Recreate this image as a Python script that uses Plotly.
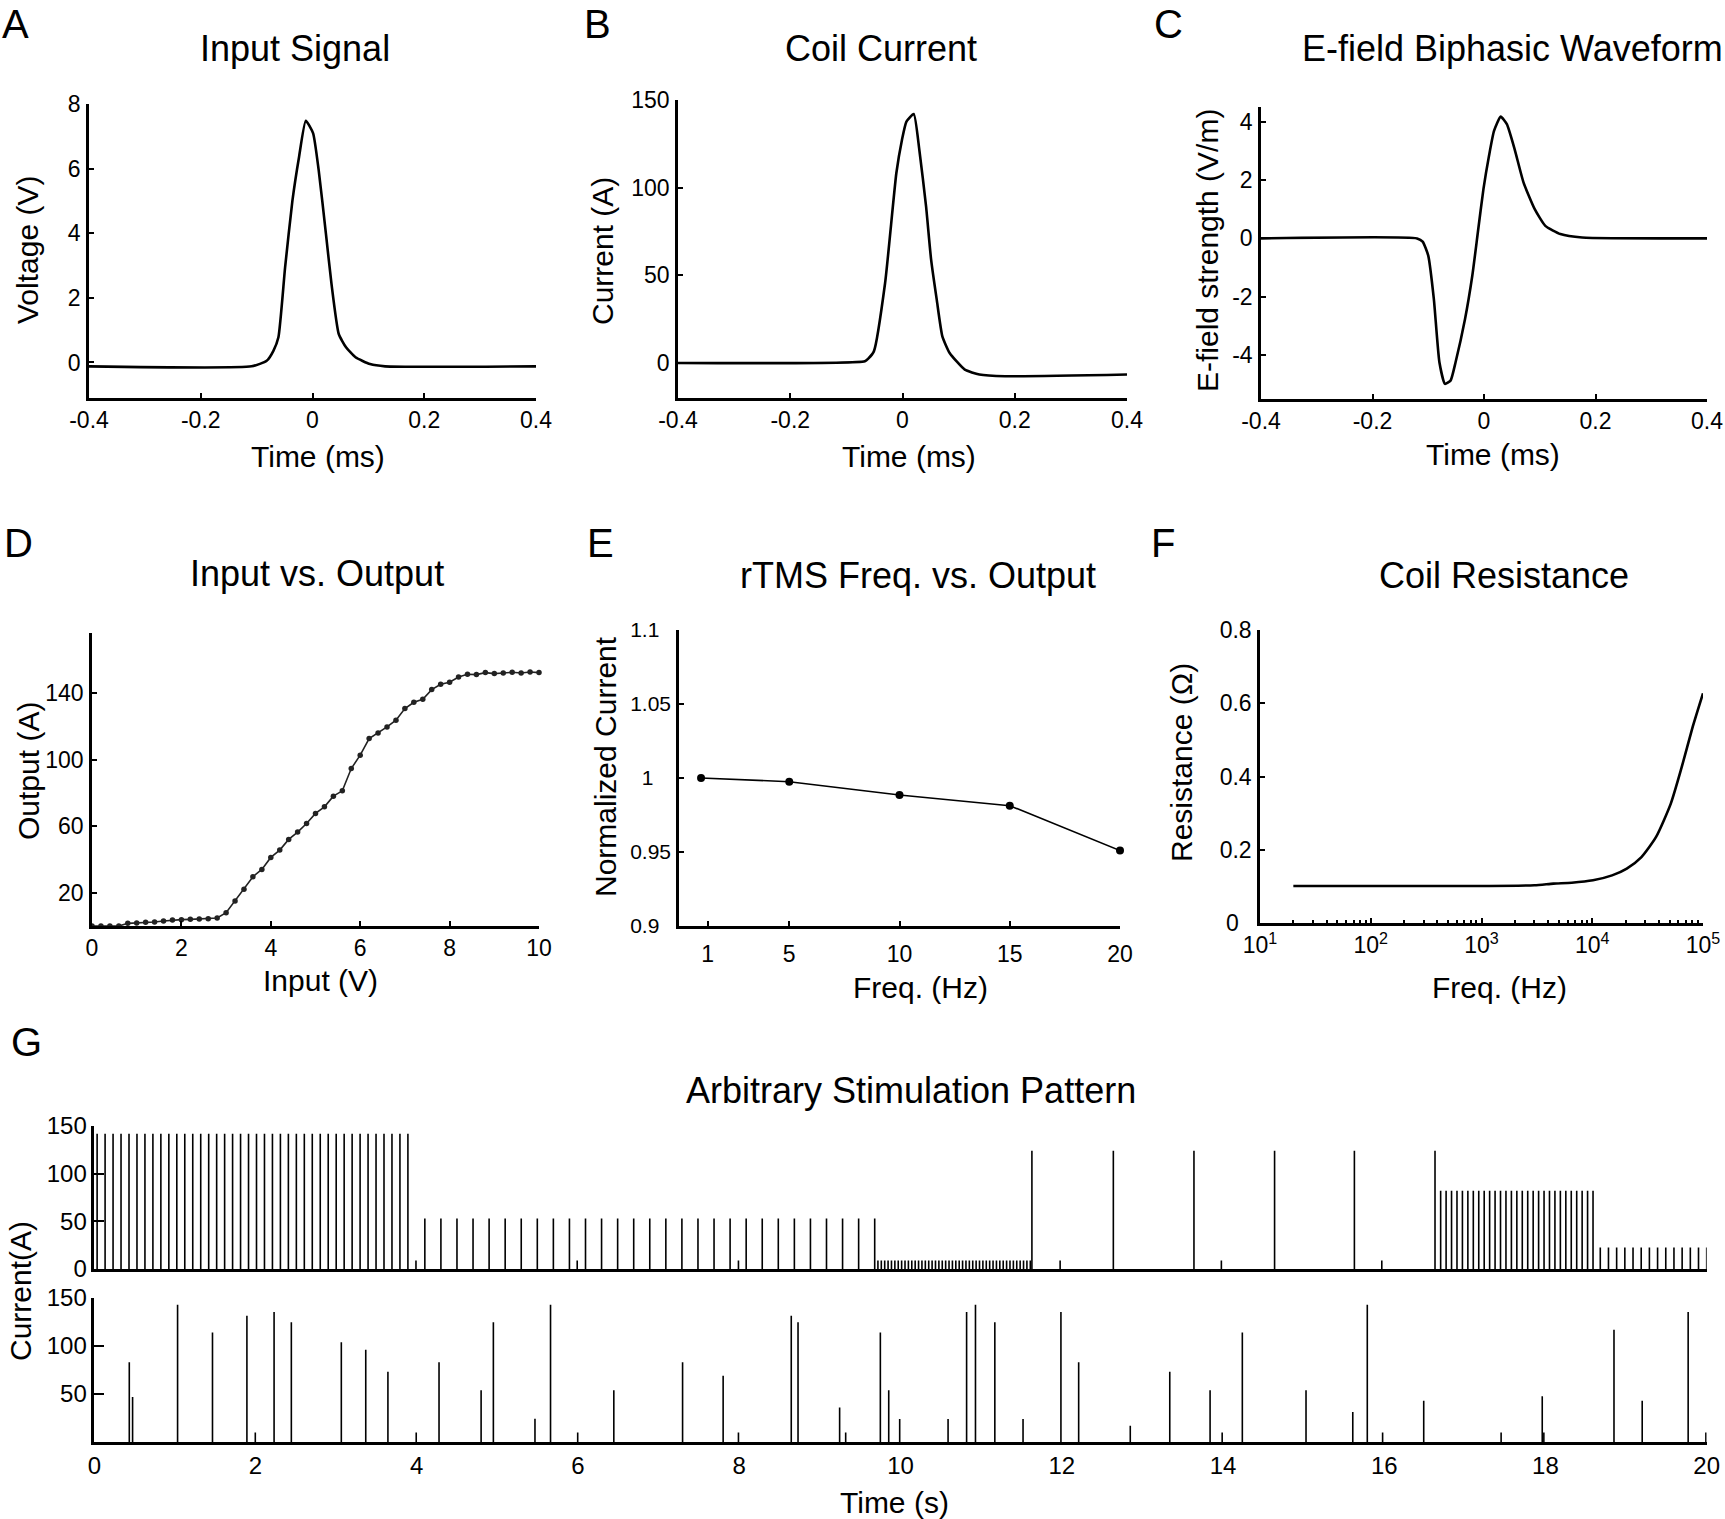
import plotly.graph_objects as go

W, H = 1725, 1519
FONT = "Liberation Sans, Arial, Helvetica, sans-serif"
NB = "\u00a0"

# ---------------- Data ----------------
# A: Input signal
a_time = [-0.4, -0.109, -0.082, -0.070, -0.061, -0.049, -0.036, -0.024, -0.012, 0.001,
          0.011, 0.024, 0.034, 0.047, 0.060, 0.077, 0.103, 0.130, 0.4]
a_volt = [-0.12, -0.12, 0.05, 0.36, 0.78, 2.95, 5.0, 6.37, 7.48, 7.1,
          5.96, 3.99, 2.43, 0.88, 0.47, 0.16, -0.05, -0.12, -0.12]

# B: Coil current
b_time = [-0.4, -0.067, -0.061, -0.051, -0.031, -0.011, -0.001, 0.007, 0.020, 0.030,
          0.042, 0.051, 0.061, 0.071, 0.084, 0.111, 0.137, 0.183, 0.4]
b_curr = [0.0, 1.0, 2.5, 6.6, 45.6, 108.2, 127.2, 137.7, 142.0, 121.5,
          89.3, 58.9, 36.1, 15.2, 5.7, -3.8, -6.6, -7.6, -6.6]

# C: E-field biphasic waveform
c_time = [-0.4, -0.120, -0.110, -0.100, -0.090, -0.080, -0.070, -0.060, -0.051, -0.034,
          -0.021, -0.011, -0.001, 0.009, 0.018, 0.030, 0.041, 0.055, 0.071, 0.091,
          0.110, 0.137, 0.176, 0.4]
c_field = [0.0, 0.0, -0.11, -0.59, -2.07, -4.24, -4.98, -4.87, -4.24, -2.76,
           -1.28, 0.21, 1.69, 2.83, 3.68, 4.17, 3.91, 3.05, 1.91, 1.00,
           0.43, 0.15, 0.03, 0.0]

# D: Input vs. output
d_input = [0.0, 0.2, 0.4, 0.6, 0.8, 1.0, 1.2, 1.4, 1.6, 1.8, 2.0, 2.2, 2.4, 2.6, 2.8,
           3.0, 3.2, 3.4, 3.6, 3.8, 4.0, 4.2, 4.4, 4.6, 4.8, 5.0, 5.2, 5.4, 5.6, 5.8,
           6.0, 6.2, 6.4, 6.6, 6.8, 7.0, 7.2, 7.4, 7.6, 7.8, 8.0, 8.2, 8.4, 8.6, 8.8,
           9.0, 9.2, 9.4, 9.6, 9.8, 10.0]
d_output = [0.0, 0.0, 0.0, 0.0, 1.6, 1.8, 2.2, 2.4, 3.0, 3.6, 3.8, 4.0, 4.2, 4.4, 4.8,
            8.0, 15.0, 22.0, 29.6, 34.0, 41.2, 45.6, 52.0, 56.4, 61.6, 67.6, 71.6, 78.0, 81.2, 94.6,
            102.6, 112.6, 116.0, 119.6, 123.6, 130.6, 134.4, 136.2, 142.0, 145.2, 146.4, 149.6, 151.2, 151.0, 152.2,
            151.6, 152.0, 152.4, 152.0, 152.6, 152.2]

# E: rTMS frequency vs. output
e_freq = [1, 5, 10, 15, 20]
e_norm = [1.0, 0.9975, 0.9885, 0.9813, 0.951]
e_tickvals = [1.3, 5, 10, 15, 20]
e_ticktext = ["1", "5", "10", "15", "20"]
e_ytickvals = [0.9, 0.95, 1.0, 1.05, 1.1]
e_yticktext = ["0.9", "0.95", "1", "1.05", "1.1"]

# F: Coil resistance
f_freq = [20, 100, 1000, 3000, 4460, 6530, 10160, 15100, 20500, 27800, 37700, 51200, 64300, 80800, 100000]
f_res = [0.101, 0.101, 0.101, 0.103, 0.1075, 0.110, 0.1166, 0.130, 0.1485, 0.180, 0.235, 0.326, 0.426, 0.536, 0.627]
f_ytickvals = [0, 0.2, 0.4, 0.6, 0.8]
f_yticktext = ["0", "0.2", "0.4", "0.6", "0.8"]

# G top: stimulation trains (start s, end s, pulse count, amplitude A)
g_train_start = [0.035, 4.10, 9.72, 16.70, 18.68]
g_train_end = [3.89, 9.68, 11.61, 18.59, 20.0]
g_train_count = [40, 29, 46, 29, 14]
g_train_amp = [142, 53, 9, 82, 22.5]
# G top: single pulses
g_single_t = [11.63, 12.64, 13.64, 14.64, 15.63, 16.63, 3.99, 5.99, 7.99, 11.98, 13.98, 15.97]
g_single_a = [124, 124, 124, 124, 124, 124, 9, 9, 9, 9, 9, 9]

# G bottom: random pulses
g_rand_t = [0.434, 0.475, 1.033, 1.466, 1.893, 1.997, 2.23, 2.444, 3.064, 3.367,
            3.642, 3.993, 4.276, 4.798, 4.95, 5.466, 5.659, 5.996, 6.444, 7.297,
            7.8, 7.99, 8.645, 8.729, 9.245, 9.32, 9.75, 9.854, 9.99, 10.59,
            10.82, 10.93, 11.17, 11.52, 11.99, 12.21, 12.85, 13.34, 13.84, 13.99,
            14.24, 15.03, 15.61, 15.79, 15.98, 16.49, 17.45, 17.96, 17.98, 18.85,
            19.2, 19.77, 19.99]
g_rand_a = [83, 47, 143, 114, 131.6, 10, 135.4, 124.7, 103.8, 96.2,
            73.3, 10, 83, 53.8, 124.7, 24.3, 143, 10, 53.8, 83,
            69, 10, 131.6, 124.7, 36, 10, 114, 53.8, 24, 24,
            135.4, 143, 124.7, 24, 135.4, 83, 17, 73.3, 53.8, 10,
            114, 53.8, 31.3, 143, 10, 43, 10, 47.6, 10, 117,
            43, 135.4, 10]

# ---------------- Helpers ----------------
def fx(p):
    return p / W

def fy(p):
    return 1 - p / H

def stems(ts, amps):
    xs, ys = [], []
    for t, a in zip(ts, amps):
        xs += [t, t, None]
        ys += [0, a, None]
    return xs, ys

def pad_labels(labels, widest):
    # emulate the left-leaning label placement of the original figure
    out = []
    for s in labels:
        n = round((len(widest) - len(s)) * 1.6)
        out.append(s + NB * n)
    return out

top_t, top_a = [], []
for s, e, n, a in zip(g_train_start, g_train_end, g_train_count, g_train_amp):
    step = (e - s) / (n - 1)
    for k in range(n):
        top_t.append(s + k * step)
        top_a.append(a)
top_t += g_single_t
top_a += g_single_a

fig = go.Figure()
LC = "black"

fig.add_trace(go.Scatter(x=a_time, y=a_volt, mode="lines",
                         line=dict(color=LC, width=2.6, shape="spline", smoothing=0.5),
                         xaxis="x", yaxis="y"))
fig.add_trace(go.Scatter(x=b_time, y=b_curr, mode="lines",
                         line=dict(color=LC, width=2.6, shape="spline", smoothing=0.5),
                         xaxis="x2", yaxis="y2"))
fig.add_trace(go.Scatter(x=c_time, y=c_field, mode="lines",
                         line=dict(color=LC, width=2.6, shape="spline", smoothing=0.5),
                         xaxis="x3", yaxis="y3"))
fig.add_trace(go.Scatter(x=d_input, y=d_output, mode="lines+markers",
                         line=dict(color="#222222", width=1.6),
                         marker=dict(color="#222222", size=5.5), cliponaxis=False,
                         xaxis="x4", yaxis="y4"))
fig.add_trace(go.Scatter(x=e_freq, y=e_norm, mode="lines+markers",
                         line=dict(color=LC, width=1.6),
                         marker=dict(color=LC, size=8), cliponaxis=False,
                         xaxis="x5", yaxis="y5"))
fig.add_trace(go.Scatter(x=f_freq, y=f_res, mode="lines",
                         line=dict(color=LC, width=2.6, shape="spline", smoothing=0.6),
                         xaxis="x6", yaxis="y6"))
tx, ty = stems(top_t, top_a)
fig.add_trace(go.Scatter(x=tx, y=ty, mode="lines", line=dict(color=LC, width=1.6),
                         xaxis="x7", yaxis="y7"))
bx, by = stems(g_rand_t, g_rand_a)
fig.add_trace(go.Scatter(x=bx, y=by, mode="lines", line=dict(color=LC, width=1.6),
                         xaxis="x8", yaxis="y8"))

TICK = 23
common = dict(showline=True, linecolor=LC, linewidth=2.5, ticks="inside", ticklen=5,
              tickwidth=2, tickcolor=LC, showgrid=False, zeroline=False, mirror=False,
              automargin=False)

def tf(size=TICK):
    return dict(size=size, color=LC, family=FONT)

tvals = [-0.4, -0.2, 0, 0.2, 0.4]
ttext = ["-0.4", "-0.2", "0", "0.2", "0.4"]
XS, YS = 0, 1

e_ytext = [e_yticktext[0] + NB * 2, e_yticktext[1], e_yticktext[2] + NB * 3,
           e_yticktext[3], e_yticktext[4] + NB * 2]
f_ytext = [f_yticktext[0] + NB * 2] + f_yticktext[1:]

layout_axes = dict(
    xaxis=dict(domain=[fx(89), fx(536)], anchor="y", range=[-0.4, 0.4], tickvals=tvals, ticktext=ttext,
               ticklabelstandoff=XS, tickfont=tf(), **common),
    yaxis=dict(domain=[fy(398), fy(104)], anchor="x", range=[-1.1, 8], tickvals=[0, 2, 4, 6, 8],
               ticklabelstandoff=YS, tickfont=tf(), **common),
    xaxis2=dict(domain=[fx(678), fx(1127)], anchor="y2", range=[-0.4, 0.4], tickvals=tvals, ticktext=ttext,
                ticklabelstandoff=XS, tickfont=tf(), **common),
    yaxis2=dict(domain=[fy(398), fy(100)], anchor="x2", range=[-20, 150], tickvals=[0, 50, 100, 150],
                ticklabelstandoff=YS, tickfont=tf(), **common),
    xaxis3=dict(domain=[fx(1261), fx(1707)], anchor="y3", range=[-0.4, 0.4], tickvals=tvals, ticktext=ttext,
                ticklabelstandoff=XS, tickfont=tf(), **common),
    yaxis3=dict(domain=[fy(399), fy(107)], anchor="x3", range=[-5.5, 4.5], tickvals=[-4, -2, 0, 2, 4],
                ticktext=["-4", "-2", "0", "2", "4"], ticklabelstandoff=YS, tickfont=tf(), **common),
    xaxis4=dict(domain=[fx(92), fx(539)], anchor="y4", range=[0, 10], tickvals=[0, 2, 4, 6, 8, 10],
                ticklabelstandoff=XS, tickfont=tf(), **common),
    yaxis4=dict(domain=[fy(926), fy(633)], anchor="x4", range=[0, 176], tickvals=[20, 60, 100, 140],
                ticklabelstandoff=YS, tickfont=tf(), **common),
    xaxis5=dict(domain=[fx(679), fx(1120)], anchor="y5", range=[0, 20], tickvals=e_tickvals, ticktext=e_ticktext,
                ticklabelstandoff=6, tickfont=tf(), **common),
    yaxis5=dict(domain=[fy(926), fy(630)], anchor="x5", range=[0.9, 1.1],
                tickvals=e_ytickvals, ticktext=e_ytext,
                ticklabelstandoff=YS, tickfont=tf(21), **common),
    xaxis6=dict(domain=[fx(1260), fx(1703)], anchor="y6", type="log", range=[1, 5],
                tickvals=[10, 100, 1000, 10000, 100000],
                ticktext=["10<sup>1</sup>", "10<sup>2</sup>", "10<sup>3</sup>", "10<sup>4</sup>", "10<sup>5</sup>"],
                minor=dict(tickvals=[m * 10 ** e for e in range(1, 5) for m in range(2, 10)],
                           ticks="inside", ticklen=3, tickwidth=1.5, tickcolor=LC, showgrid=False),
                ticklabelstandoff=XS, tickfont=tf(), **common),
    yaxis6=dict(domain=[fy(923), fy(630)], anchor="x6", range=[0, 0.8],
                tickvals=f_ytickvals, ticktext=f_ytext,
                ticklabelstandoff=YS, tickfont=tf(), **common),
)

gy = dict(common)
gy["ticklen"] = 10
gx = {k: v for k, v in common.items() if k != "ticks"}
layout_axes.update(
    xaxis7=dict(domain=[fx(94.3), fx(1706.7)], anchor="y7", range=[0, 20], showticklabels=False,
                ticks="", **gx),
    yaxis7=dict(domain=[fy(1269), fy(1126)], anchor="x7", range=[0, 150], tickvals=[0, 50, 100, 150],
                ticklabelstandoff=0, tickfont=tf(24), **gy),
    xaxis8=dict(domain=[fx(94.3), fx(1706.7)], anchor="y8", range=[0, 20],
                tickvals=[0, 2, 4, 6, 8, 10, 12, 14, 16, 18, 20], ticklabelstandoff=0,
                tickfont=tf(24), ticks="", **gx),
    yaxis8=dict(domain=[fy(1442), fy(1298)], anchor="x8", range=[0, 150], tickvals=[50, 100, 150],
                ticklabelstandoff=0, tickfont=tf(24), **gy),
)

anns = []

def ann(text, x, y, size, angle=0, xanchor="center", yanchor="middle"):
    anns.append(dict(text=text, x=fx(x), y=fy(y), xref="paper", yref="paper",
                     showarrow=False, textangle=angle, xanchor=xanchor, yanchor=yanchor,
                     font=dict(size=size, color=LC, family=FONT)))

LET, TIT, AX = 40, 36, 30

# panel letters
for letter, x, y in [("A", 0, 0), ("B", 582, 0), ("C", 1152, 0),
                     ("D", 2, 519), ("E", 585, 519), ("F", 1149, 519), ("G", 9, 1018)]:
    ann(letter, x, y, LET, xanchor="left", yanchor="top")

# titles
ann("Input Signal", 295, 49, TIT)
ann("Coil Current", 881, 49, TIT)
ann("E-field Biphasic Waveform", 1300, 49, TIT, xanchor="left")
ann("Input vs. Output", 317, 574, TIT)
ann("rTMS Freq. vs. Output", 918, 575, TIT)
ann("Coil Resistance", 1504, 575, TIT)
ann("Arbitrary Stimulation Pattern", 911, 1090, TIT)

# x-axis titles
ann("Time (ms)", 318, 456, AX)
ann("Time (ms)", 909, 456, AX)
ann("Time (ms)", 1493, 454, AX)
ann("Input (V)", 320, 980, AX)
ann("Freq. (Hz)", 920, 988, AX)
ann("Freq. (Hz)", 1499, 988, AX)
ann("Time (s)", 894, 1502, AX)

# y-axis titles
ann("Voltage (V)", 28, 250, AX, angle=-90)
ann("Current (A)", 602, 251, AX, angle=-90)
ann("E-field strength (V/m)", 1207, 251, AX, angle=-90)
ann("Output (A)", 28, 771, AX, angle=-90)
ann("Normalized Current", 605, 767, AX, angle=-90)
ann("Resistance (Ω)", 1181, 763, AX, angle=-90)
ann("Current(A)", 20, 1291, AX, angle=-90)

fig.update_layout(
    width=W, height=H, margin=dict(l=0, r=0, t=0, b=0, autoexpand=False),
    paper_bgcolor="white", plot_bgcolor="white", showlegend=False,
    font=dict(family=FONT, color=LC),
    annotations=anns,
    **layout_axes,
)

fig.write_html("out.html")
